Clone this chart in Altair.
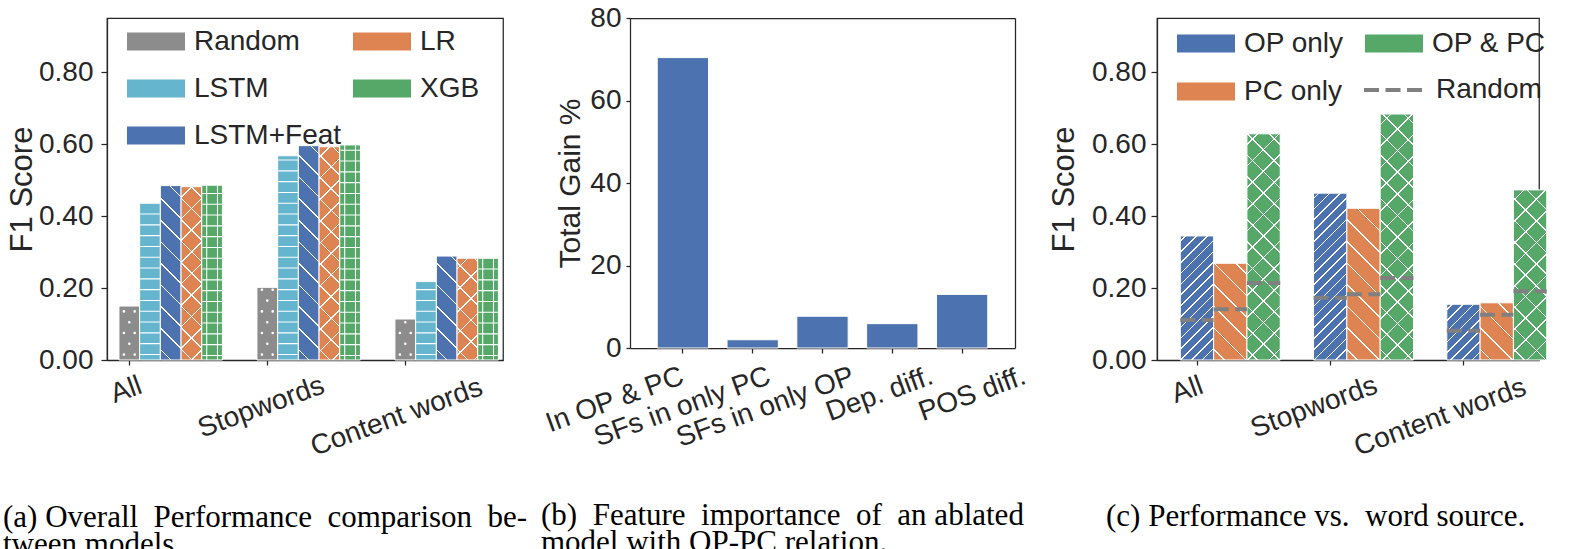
import altair as alt
import pandas as pd

# ---------------- data ----------------
groups = ["All", "Stopwords", "Content words"]

models_a = ["Random", "LSTM", "LSTM+Feat", "LR", "XGB"]
f1_random = [0.150, 0.202, 0.114]
f1_lstm = [0.437, 0.568, 0.218]
f1_lstm_feat = [0.485, 0.596, 0.289]
f1_lr = [0.482, 0.593, 0.283]
f1_xgb = [0.486, 0.598, 0.284]

features = ["In OP & PC", "SFs in only PC", "SFs in only OP", "Dep. diff.", "POS diff."]
total_gain = [70.4, 2.0, 7.7, 5.9, 13.0]

sources = ["OP only", "PC only", "OP & PC"]
f1_op_only = [0.345, 0.464, 0.155]
f1_pc_only = [0.269, 0.422, 0.159]
f1_op_pc = [0.629, 0.684, 0.473]
rand_op_only = [0.111, 0.173, 0.081]
rand_pc_only = [0.141, 0.183, 0.126]
rand_op_pc = [0.214, 0.228, 0.191]

NB = "\u00a0"
caption_a = ["(a) Overall " + NB + "Performance " + NB + "comparison " + NB + "be-", "tween models."]
caption_b = ["(b) " + NB + "Feature " + NB + "importance " + NB + "of " + NB + "an ablated",
             "model with OP-PC relation."]
caption_c = ["(c) Performance vs. " + NB + "word source."]

# ---------------- styles ----------------
BLUE, ORANGE, GREEN, GRAY, CYAN = "#4C72B0", "#DD8452", "#55A868", "#8C8C8C", "#64B5CD"
INK = "#262626"
SANS = "Liberation Sans"
SERIF = "Liberation Serif"

A_W, A_H = 396, 342
A_XDOM = [-0.1616, 2.708]
YDOM = [0, 0.951]
A_BW = 0.15
C_W, C_H = 382, 342
C_XDOM = [-0.300, 2.567]
C_BW = 0.25
B_PLOT_W, B_EXTRA, B_H = 385, 15, 330
HATCH = 10.8          # hatch unit spacing in px


def gradient_overlay(w, h, spacing, direction, lw=1.6):
    """Transparent fill with white diagonal hatch lines at 45 degrees."""
    L = w + h
    clear = "rgba(255,255,255,0)"
    stops = [{"offset": 0.0, "color": clear}]
    c = spacing / 2.0
    while c - lw / 2 < L:
        t0 = max((c - lw / 2) / L, 0.0)
        t1 = min((c + lw / 2) / L, 1.0)
        stops += [{"offset": round(t0, 5), "color": clear},
                  {"offset": round(t0, 5), "color": "white"},
                  {"offset": round(t1, 5), "color": "white"},
                  {"offset": round(t1, 5), "color": clear}]
        c += spacing
    stops.append({"offset": 1.0, "color": clear})
    a = L * w / (w * w + h * h)
    if direction == "/":
        coords = {"x1": 0, "y1": 0, "x2": round(a, 5), "y2": round(a * h / w, 5)}
    else:
        coords = {"x1": 0, "y1": 1, "x2": round(a, 5), "y2": round(1 - a * h / w, 5)}
    return {"gradient": "linear", "stops": stops, **coords}


def cat_axis(padding_cond, offset_cond):
    return alt.Axis(values=[0, 1, 2],
                    labelExpr="['" + "','".join(groups) + "'][datum.value]",
                    labelAngle=340, labelAlign="center", labelBaseline="middle",
                    labelPadding=padding_cond, labelOffset=offset_cond, labelLimit=0,
                    labelFlush=False, labelOverlap=False, tickSize=5, title=None, grid=False)


def f1_axis(label_pad, title_pad):
    return alt.Axis(values=[0, 0.2, 0.4, 0.6, 0.8], format=".2f", title="F1 Score",
                    tickSize=6, labelPadding=label_pad, titlePadding=title_pad, labelLimit=0,
                    labelFlush=False, labelOverlap=False, grid=False, titleFontSize=31)


def caption(text, dx, offset):
    return alt.TitleParams(text=text, orient="bottom", anchor="start", frame="group", align="left",
                           baseline="alphabetic", dx=dx, offset=offset, font=SERIF, fontSize=31,
                           fontWeight="normal", color="black", lineHeight=26.5)


def bar_legend(x, y, col_pad, row_pad):
    return alt.Legend(title=None, orient="none", legendX=x, legendY=y, columns=2,
                      symbolType="M-1,-0.31H1V0.31H-1Z", symbolSize=3364,
                      symbolStrokeWidth=0, symbolOpacity=1, labelFont=SANS,
                      labelFontSize=28, labelColor=INK, labelOffset=9,
                      columnPadding=col_pad, rowPadding=row_pad, padding=0, labelLimit=0)


# ======================= panel (a) =======================
rows = []
for k, (m, vals) in enumerate(zip(models_a, [f1_random, f1_lstm, f1_lstm_feat, f1_lr, f1_xgb])):
    for i, g in enumerate(groups):
        rows.append({"group": g, "gi": i, "model": m, "k": k, "value": vals[i], "key": m + "|" + g})
df_a = pd.DataFrame(rows)

a_px = A_W / (A_XDOM[1] - A_XDOM[0])
a_bw_px = A_BW * a_px

base_a = alt.Chart(df_a).transform_calculate(
    xa=f"datum.gi + datum.k*{A_BW} - {A_BW / 2}",
    xb=f"datum.gi + datum.k*{A_BW} + {A_BW / 2}",
    xc=f"datum.gi + datum.k*{A_BW}",
    zero="0",
)
ax_a = cat_axis({"condition": [{"test": "datum.value == 0", "value": 25},
                               {"test": "datum.value == 1", "value": 42}], "value": 52},
                {"condition": [{"test": "datum.value == 0", "value": -3.5},
                               {"test": "datum.value == 1", "value": -6.5}], "value": -9})
xs_a = alt.Scale(domain=A_XDOM, nice=False, zero=False)
ys = alt.Scale(domain=YDOM, nice=False)
ay_a = f1_axis(8, 0)
Xa = alt.X("xa:Q", scale=xs_a, axis=ax_a)
Xc_a = alt.X("xc:Q", scale=xs_a, axis=ax_a)
Ya = alt.Y("value:Q", scale=ys, axis=ay_a)
Y0a = alt.Y("zero:Q", scale=ys, axis=ay_a)

bars_a = base_a.mark_bar(stroke="white", strokeWidth=1).encode(
    x=Xa, x2="xb:Q", y=Ya, y2="zero:Q",
    color=alt.Color("model:N", scale=alt.Scale(domain=models_a, range=[GRAY, CYAN, BLUE, ORANGE, GREEN]),
                    legend=bar_legend(20, -5.5, 11, 4)),
)
layers_a = [bars_a]
# Random: staggered white dots (two dots on even rows, one centred dot on odd rows)
for xoff, doff in [(-HATCH / 2, -HATCH / 2), (HATCH / 2, -HATCH / 2), (0.0, -1.5 * HATCH)]:
    layers_a.append(base_a.transform_filter("datum.model == 'Random'").mark_rule(
        color="white", strokeWidth=2.6, strokeCap="round", strokeDash=[0.01, 2 * HATCH],
        strokeDashOffset=doff, xOffset=xoff).encode(x=Xc_a, y=Y0a, y2="value:Q"))
# LSTM: horizontal lines
layers_a.append(base_a.transform_filter("datum.model == 'LSTM'").mark_rule(
    color="white", strokeWidth=a_bw_px - 1, strokeCap="butt", strokeDash=[1.1, HATCH - 1.1],
    strokeDashOffset=-5).encode(x=Xc_a, y=Y0a, y2="value:Q"))
# XGB: grid
layers_a.append(base_a.transform_filter("datum.model == 'XGB'").mark_rule(
    color="white", strokeWidth=a_bw_px - 1, strokeCap="butt", strokeDash=[1.1, HATCH - 1.1],
    strokeDashOffset=-4).encode(x=Xc_a, y=Y0a, y2="value:Q"))
for xoff in (-HATCH / 2, HATCH / 2):
    layers_a.append(base_a.transform_filter("datum.model == 'XGB'").mark_rule(
        color="white", strokeWidth=1.1, xOffset=xoff).encode(x=Xc_a, y=Y0a, y2="value:Q"))
# LSTM+Feat and LR: diagonal hatching
for m, vals, dirs in [("LSTM+Feat", f1_lstm_feat, ["\\"]), ("LR", f1_lr, ["\\", "/"])]:
    for i, g in enumerate(groups):
        h = vals[i] / YDOM[1] * A_H
        for d in dirs:
            layers_a.append(base_a.transform_filter(f"datum.key == '{m}|{g}'").mark_bar(
                fill=gradient_overlay(a_bw_px, h, 2 * HATCH, d), strokeWidth=0).encode(
                x=Xa, x2="xb:Q", y=Ya, y2="zero:Q"))

panel_a = alt.layer(*layers_a).properties(width=A_W, height=A_H, title=caption(caption_a, -104, 66))

# ======================= panel (b) =======================
df_b = pd.DataFrame({"feature": features, "gain": total_gain})
xs_b = alt.Scale(domain=features, range=[0, B_PLOT_W], paddingInner=0.265, paddingOuter=0.39)
ys_b = alt.Scale(domain=[0, 80], nice=False)
bars_b = alt.Chart(df_b).mark_bar(color=BLUE, stroke="white", strokeWidth=1).encode(
    x=alt.X("feature:N", scale=xs_b,
            axis=alt.Axis(labelAngle=340, labelAlign="right", labelBaseline="top", labelLimit=0,
                          labelOffset={"condition": [
                              {"test": "datum.value == 'In OP & PC'", "value": -5},
                              {"test": "datum.value == 'SFs in only PC'", "value": 12},
                              {"test": "datum.value == 'SFs in only OP'", "value": 26},
                              {"test": "datum.value == 'Dep. diff.'", "value": 35}], "value": 58},
                          labelPadding=9, tickSize=5, title=None, labelOverlap=False, grid=False)),
    y=alt.Y("gain:Q", scale=ys_b,
            axis=alt.Axis(values=[0, 20, 40, 60, 80], title="Total Gain %", tickSize=4, labelPadding=5,
                          titlePadding=4, labelOverlap=False, labelFlush=False, grid=False, titleFontSize=30)),
)
frame_b = alt.Chart(df_b).mark_bar(opacity=0).encode(
    x=alt.X("feature:N", scale=xs_b,
            axis=alt.Axis(orient="top", labels=False, ticks=False, title=None, grid=False)),
    y=alt.Y("gain:Q", scale=ys_b,
            axis=alt.Axis(orient="right", offset=-B_EXTRA, labels=False, ticks=False, title=None, grid=False)),
)
panel_b = alt.layer(bars_b, frame_b).resolve_axis(x="independent", y="independent").properties(
    width=B_PLOT_W + B_EXTRA, height=B_H, view=alt.ViewBackground(strokeWidth=0),
    title=caption(caption_b, -89, 73))

# ======================= panel (c) =======================
rows = []
for k, (s, vals, rvals) in enumerate(zip(sources, [f1_op_only, f1_pc_only, f1_op_pc],
                                         [rand_op_only, rand_pc_only, rand_op_pc])):
    for i, g in enumerate(groups):
        rows.append({"group": g, "gi": i, "source": s, "k": k, "value": vals[i], "rand": rvals[i],
                     "key": s + "|" + g})
df_c = pd.DataFrame(rows)

c_px = C_W / (C_XDOM[1] - C_XDOM[0])
c_bw_px = C_BW * c_px

base_c = alt.Chart(df_c).transform_calculate(
    xa=f"datum.gi + datum.k*{C_BW} - {C_BW / 2}",
    xb=f"datum.gi + datum.k*{C_BW} + {C_BW / 2}",
    zero="0",
    rkind="'Random'",
)
ax_c = cat_axis({"condition": [{"test": "datum.value == 0", "value": 25},
                               {"test": "datum.value == 1", "value": 42}], "value": 52},
                {"condition": [{"test": "datum.value == 0", "value": -10},
                               {"test": "datum.value == 1", "value": -16.5}], "value": -23.5})
xs_c = alt.Scale(domain=C_XDOM, nice=False, zero=False)
ay_c = f1_axis(5, 11)
Xc = alt.X("xa:Q", scale=xs_c, axis=ax_c)
Yc = alt.Y("value:Q", scale=ys, axis=ay_c)
Yr = alt.Y("rand:Q", scale=ys, axis=ay_c)

bars_c = base_c.mark_bar(stroke="white", strokeWidth=1).encode(
    x=Xc, x2="xb:Q", y=Yc, y2="zero:Q",
    color=alt.Color("source:N", scale=alt.Scale(domain=sources, range=[BLUE, ORANGE, GREEN]),
                    legend=bar_legend(20, -3.5, 21, 5)),
)
layers_c = [bars_c]
for s, vals, dirs, sp in [("OP only", f1_op_only, ["/"], HATCH), ("PC only", f1_pc_only, ["\\"], 2 * HATCH),
                          ("OP & PC", f1_op_pc, ["\\", "/"], 2 * HATCH)]:
    for i, g in enumerate(groups):
        h = vals[i] / YDOM[1] * C_H
        for d in dirs:
            layers_c.append(base_c.transform_filter(f"datum.key == '{s}|{g}'").mark_bar(
                fill=gradient_overlay(c_bw_px, h, sp, d), strokeWidth=0).encode(
                x=Xc, x2="xb:Q", y=Yc, y2="zero:Q"))
layers_c.append(base_c.mark_rule(color="#808080", strokeWidth=4, strokeCap="butt").encode(
    x=Xc, x2="xb:Q", y=Yr,
    strokeDash=alt.StrokeDash("rkind:N", scale=alt.Scale(domain=["Random"], range=[[15, 6.5]]),
                              legend=alt.Legend(title=None, orient="none", legendX=205, legendY=41,
                                                symbolType="stroke", symbolSize=3364,
                                                symbolStrokeColor="#808080", symbolStrokeWidth=4,
                                                labelFont=SANS, labelFontSize=28, labelColor=INK,
                                                labelOffset=12, padding=0, labelLimit=0)),
))

panel_c = alt.layer(*layers_c).properties(width=C_W, height=C_H, title=caption(caption_c, -51, 65))

chart = alt.hconcat(panel_a, panel_b, panel_c, spacing=127, bounds="flush").resolve_scale(
    color="independent", strokeDash="independent"
).resolve_legend(
    color="independent", strokeDash="independent"
).properties(
    padding={"left": 2, "top": 4, "right": 0, "bottom": 0},
    autosize=alt.AutoSizeParams(type="pad"),
    background="white",
).configure(font=SANS).configure_view(
    stroke=INK, strokeWidth=1.25,
).configure_axis(
    labelFont=SANS, titleFont=SANS, labelFontSize=28, labelColor=INK, titleColor=INK,
    titleFontWeight="normal", domainColor=INK, domainWidth=1.25, tickColor=INK, tickWidth=1.25,
)

chart.save("out.html", embed_options={"renderer": "svg", "actions": False})
